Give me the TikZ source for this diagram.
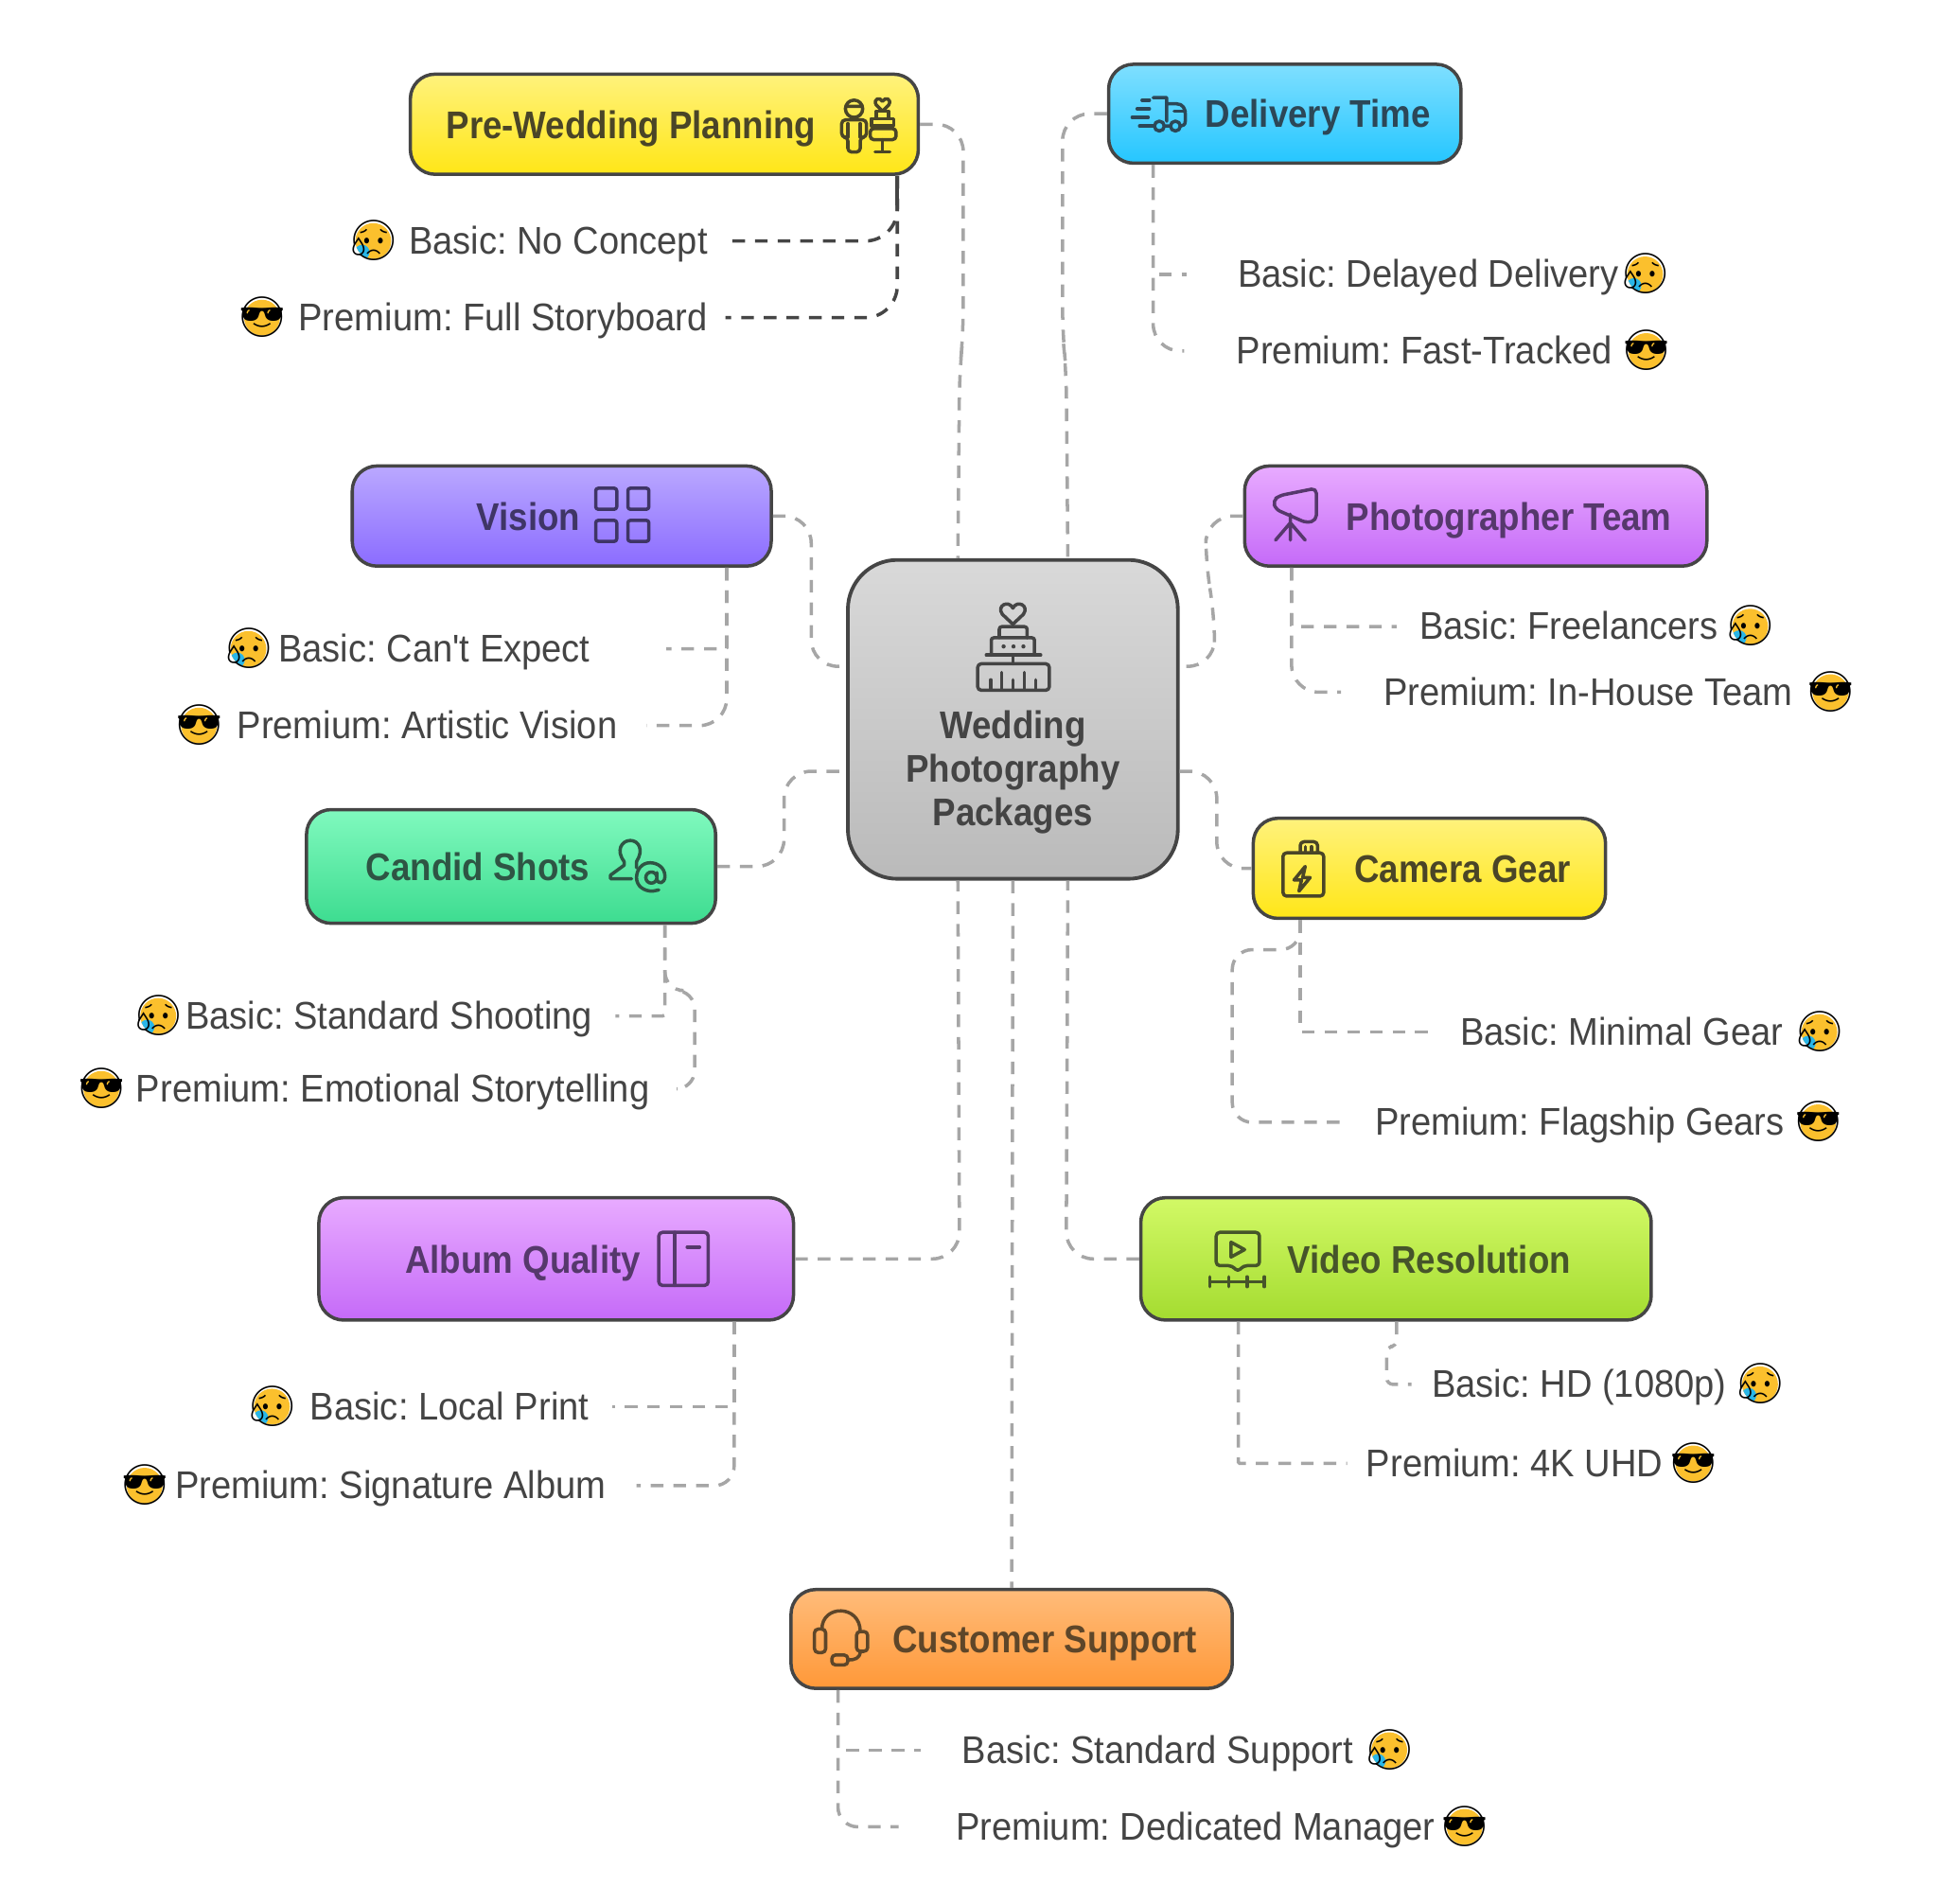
\documentclass[tikz,border=0pt]{standalone}
\usepackage{fontspec}
\setmainfont{Liberation Sans}[Ligatures=TeXOff, FakeStretch=0.935, BoldFeatures={FakeStretch=0.9}]
\newfontfamily\emojifont{Noto Emoji}
\usetikzlibrary{positioning}
\newcommand{\ux}{0.13061mm}
\newcommand{\sadglyph}{\makebox[0pt]{\raisebox{-3.9pt}[0pt][0pt]{\emojifont\char"1F625}}}
\newcommand{\coolglyph}{\makebox[0pt]{\raisebox{-3.9pt}[0pt][0pt]{\emojifont\char"1F60E}}}
\definecolor{edge}{HTML}{454545}
\definecolor{dash}{HTML}{A6A6A6}
\definecolor{body}{HTML}{444444}
\definecolor{face}{HTML}{FBC02D}
\definecolor{drop}{HTML}{29B6E8}
\definecolor{planningink}{HTML}{4A4527}
\definecolor{deliveryink}{HTML}{2C4757}
\definecolor{visionink}{HTML}{3F3566}
\definecolor{teamink}{HTML}{56386C}
\definecolor{candidink}{HTML}{2E5544}
\definecolor{videoink}{HTML}{46552A}
\definecolor{supportink}{HTML}{5E4629}
\definecolor{yellowtop}{HTML}{FFF27C}
\definecolor{yellowend}{HTML}{FFE617}
\definecolor{skytop}{HTML}{7FDFFF}
\definecolor{skyend}{HTML}{25C6FF}
\definecolor{violettop}{HTML}{BAA8FF}
\definecolor{violetend}{HTML}{8B6CFF}
\definecolor{purpletop}{HTML}{E8ABFF}
\definecolor{purpleend}{HTML}{C56AF8}
\definecolor{greentop}{HTML}{80F9BE}
\definecolor{greenend}{HTML}{3DDC90}
\definecolor{limetop}{HTML}{D2F966}
\definecolor{limeend}{HTML}{A4DC30}
\definecolor{orangetop}{HTML}{FFBC7A}
\definecolor{orangeend}{HTML}{FF9838}
\begin{document}
\frenchspacing
\begin{tikzpicture}[
    x=\ux, y=-\ux,
    box/.style n args = {3}{rectangle, draw=edge, line width=1pt, rounded corners=20*\ux, top color=#1, bottom color=#2, text=#3, font=\fontsize{11.6}{14}\selectfont\bfseries, text height=9.7pt, text depth=1.3pt},
    hubbox/.style = {rectangle, draw=edge, line width=1.1pt, rounded corners=40*\ux, top color=black!15, bottom color=black!27, text=body, font=\fontsize{11.6}{13.2}\selectfont\bfseries, align=center, inner sep=0pt},
    item/.style = {text=body, font=\fontsize{11.6}{14}\selectfont, inner sep=0pt, text height=9.4pt, text depth=1.6pt},
    sad/.style = {circle, fill=face, minimum size=29*\ux, inner sep=0pt, font=\fontsize{12}{12}\selectfont, path picture={\fill[drop] ([shift={(-9,9)}]path picture bounding box.center) circle (6);}},
    cool/.style = {circle, fill=face, minimum size=29*\ux, inner sep=0pt, font=\fontsize{12}{12}\selectfont},
    link/.style = {draw=dash, line width=1pt, dash pattern=on 3.8pt off 3pt, rounded corners=22*\ux},
    darklink/.style = {link, draw=edge},
    icon/.style = {line width=1pt, line join=round, line cap=round}
]
\useasboundingbox (0,0) rectangle (1568,1539.7);

% Nodes around the centre
\node (hub) [hubbox, minimum width=267*\ux, minimum height=258*\ux] at (819.5,582) {\rule{0pt}{27pt}\\Wedding\\Photography\\Packages};
\node (planning) [box={yellowtop}{yellowend}{planningink}, minimum width=411*\ux, minimum height=81*\ux] at (537.5,100.5) {\hspace*{-20pt}Pre-Wedding Planning};
\node (delivery) [box={skytop}{skyend}{deliveryink}, minimum width=285*\ux, minimum height=80*\ux] at (1039.5,92) {\hspace*{20pt}Delivery Time};
\node (vision) [box={violettop}{violetend}{visionink}, minimum width=339*\ux, minimum height=81*\ux] at (454.5,417.5) {\hspace*{-20pt}Vision};
\node (team) [box={purpletop}{purpleend}{teamink}, minimum width=374*\ux, minimum height=81*\ux] at (1194,417.5) {\hspace*{20pt}Photographer Team};
\node (candid) [box={greentop}{greenend}{candidink}, minimum width=331*\ux, minimum height=92*\ux] at (413.5,701) {\hspace*{-20pt}Candid Shots};
\node (camera) [box={yellowtop}{yellowend}{planningink}, minimum width=285*\ux, minimum height=81*\ux] at (1156.5,702.5) {\hspace*{20pt}Camera Gear};
\node (album) [box={purpletop}{purpleend}{teamink}, minimum width=384*\ux, minimum height=99*\ux] at (450,1018.5) {\hspace*{-20pt}Album Quality};
\node (video) [box={limetop}{limeend}{videoink}, minimum width=413*\ux, minimum height=99*\ux] at (1129.5,1018.5) {\hspace*{20pt}Video Resolution};
\node (support) [box={orangetop}{orangeend}{supportink}, minimum width=357*\ux, minimum height=80*\ux] at (818.5,1326) {\hspace*{20pt}Customer Support};

% Labels under each box
\node (noconcept) [item, anchor=east] at (573,195) {Basic: No Concept};
\node (storyboard) [item, anchor=east] at (573,257) {Premium: Full Storyboard};
\node (delayed) [item, anchor=west] at (1001,222) {Basic: Delayed Delivery};
\node (fasttracked) [item, anchor=west] at (1000,284) {Premium: Fast-Tracked};
\node (cantexpect) [item, anchor=east] at (478,525) {Basic: Can't Expect};
\node (artistic) [item, anchor=east] at (500,587) {Premium: Artistic Vision};
\node (freelancers) [item, anchor=west] at (1148,507) {Basic: Freelancers};
\node (inhouse) [item, anchor=west] at (1119,560) {Premium: In-House Team};
\node (standardshoot) [item, anchor=east] at (480,822) {Basic: Standard Shooting};
\node (emotional) [item, anchor=east] at (526,881) {Premium: Emotional Storytelling};
\node (minimal) [item, anchor=west] at (1181,835) {Basic: Minimal Gear};
\node (flagship) [item, anchor=west] at (1112,908) {Premium: Flagship Gears};
\node (localprint) [item, anchor=east] at (477,1138) {Basic: Local Print};
\node (signature) [item, anchor=east] at (491,1202) {Premium: Signature Album};
\node (hd) [item, anchor=west] at (1158,1120) {Basic: HD (1080p)};
\node (uhd) [item, anchor=west] at (1105,1184) {Premium: 4K UHD};
\node (standardsupport) [item, anchor=west] at (778,1416) {Basic: Standard Support};
\node (manager) [item, anchor=west] at (773,1478) {Premium: Dedicated Manager};

% Faces
\node (face1) [sad] at (302,195) {\sadglyph};
\node (face2) [cool] at (212,257) {\coolglyph};
\node (face3) [sad] at (1331,222) {\sadglyph};
\node (face4) [cool] at (1332,284) {\coolglyph};
\node (face5) [sad] at (201,525) {\sadglyph};
\node (face6) [cool] at (161,587) {\coolglyph};
\node (face7) [sad] at (1416,507) {\sadglyph};
\node (face8) [cool] at (1481,560) {\coolglyph};
\node (face9) [sad] at (128,822) {\sadglyph};
\node (face10) [cool] at (82,881) {\coolglyph};
\node (face11) [sad] at (1472,835) {\sadglyph};
\node (face12) [cool] at (1471,908) {\coolglyph};
\node (face13) [sad] at (220,1138) {\sadglyph};
\node (face14) [cool] at (117,1202) {\coolglyph};
\node (face15) [sad] at (1424,1120) {\sadglyph};
\node (face16) [cool] at (1370,1184) {\coolglyph};
\node (face17) [sad] at (1124,1416) {\sadglyph};
\node (face18) [cool] at (1185,1478) {\coolglyph};

% Links from the centre
\draw [link] (planning.east) -- ++(35,0) -- ++(0,170) -- ++(-3,30) -- ([xshift=-44.5*\ux]hub.north);
\draw [link] (delivery.west) -- ++(-36,0) -- ++(0,178) -- ++(3,30) -- ([xshift=44.5*\ux]hub.north);
\draw [link] (vision.east) -- ++(31,0) -- ++(0,122) -- ([yshift=43*\ux]hub.west);
\draw [link] (team.west) -- ++(-30,0) -- ++(0,40) -- ++(7,40) -- ++(0,42) -- ([yshift=43*\ux]hub.east);
\draw [link] (candid.east) -- ++(54,0) -- ++(0,-77) -- ([yshift=-42*\ux]hub.west);
\draw [link] ([yshift=-42*\ux]hub.east) -- ++(30,0) -- ++(0,79) -- (camera.west);
\draw [link] (album.east) -- ++(133,0) -- ([xshift=-44.5*\ux]hub.south);
\draw [link] (video.west) -- ++(-59,0) -- ([xshift=44.5*\ux]hub.south);
\draw [link] (hub.south) -- (support.north);

% Links to the labels
\draw [darklink, rounded corners=26*\ux] ([xshift=188.5*\ux]planning.south) |- ([xshift=14*\ux]noconcept.east);
\draw [darklink, rounded corners=26*\ux] ([xshift=188.5*\ux]planning.south) |- ([xshift=14*\ux]storyboard.east);
\draw [draw=edge, line width=1pt] ([xshift=188.5*\ux]planning.south) -- ++(0,24);
\draw [link, rounded corners=4*\ux] ([xshift=-106.5*\ux]delivery.south) |- ([xshift=-41*\ux]delayed.west);
\draw [link] ([xshift=-106.5*\ux]delivery.south) |- ([xshift=-42*\ux]fasttracked.west);
\draw [link, rounded corners=1*\ux] ([xshift=133.5*\ux]vision.south) |- ([xshift=61*\ux]cantexpect.east);
\draw [link] ([xshift=133.5*\ux]vision.south) |- ([xshift=23*\ux]artistic.east);
\draw [link, rounded corners=1*\ux] ([xshift=-149*\ux]team.south) |- ([xshift=-18*\ux]freelancers.west);
\draw [link] ([xshift=-149*\ux]team.south) |- ([xshift=-34*\ux]inhouse.west);
\draw [link, rounded corners=2*\ux] ([xshift=124.5*\ux]candid.south) |- ([xshift=18*\ux]standardshoot.east);
\draw [link, rounded corners=15*\ux] ([xshift=124.5*\ux]candid.south) -- ++(0,53) -- ++(24,0) |- ([xshift=22*\ux]emotional.east);
\draw [link, rounded corners=1*\ux] ([xshift=-104.5*\ux]camera.south) |- ([xshift=-19*\ux]minimal.west);
\draw [link, rounded corners=16*\ux] ([xshift=-104.5*\ux]camera.south) -- ++(0,24) -- ++(-55,0) |- ([xshift=-22*\ux]flagship.west);
\draw [link, rounded corners=1*\ux] ([xshift=144*\ux]album.south) |- ([xshift=18*\ux]localprint.east);
\draw [link, rounded corners=16*\ux] ([xshift=144*\ux]album.south) |- ([xshift=24*\ux]signature.east);
\draw [link, rounded corners=5*\ux] ([xshift=0.5*\ux]video.south) -- ++(0,20) -- ++(-8,0) |- ([xshift=-16*\ux]hd.west);
\draw [link, rounded corners=1*\ux] ([xshift=-127.5*\ux]video.south) |- ([xshift=-15*\ux]uhd.west);
\draw [link, rounded corners=1*\ux] ([xshift=-140.5*\ux]support.south) |- ([xshift=-33*\ux]standardsupport.west);
\draw [link, rounded corners=16*\ux] ([xshift=-140.5*\ux]support.south) |- ([xshift=-46*\ux]manager.west);

% Icons
\begin{scope}[icon, draw=planningink]
\draw (691,88) circle (7) (684.5,86) -- (697.5,86);
\draw [rounded corners=3*\ux] (686,111) -- (681,111) -- (681,97) -- (701,97) -- (701,111) -- (696,111) -- (696,123) -- (686,123) -- cycle;
\draw (686,100) -- (686,111) (696,100) -- (696,111);
\draw (714,90) -- (709,85) .. controls (706,80) and (712,78) .. (714,82) .. controls (716,78) and (722,80) .. (719,85) -- cycle;
\draw (709,90) rectangle (719,96) (705,96) rectangle (723,102);
\draw [rounded corners=3*\ux] (704,104) rectangle (725,113);
\draw (714,113) -- (714,122) (708,123) -- (720,123);
% camera battery
\draw [rounded corners=3*\ux] (1038,690) rectangle (1071,725) (1052,690) -- (1052,681) -- (1066,681) -- (1066,690);
\draw (1056,685) -- (1056,690) (1061,685) -- (1061,690);
\draw (1056,701) -- (1047,712) -- (1053,712) -- (1051,721) -- (1060,710) -- (1054,710) -- cycle;
\end{scope}
\begin{scope}[icon, draw=deliveryink]
\draw (924,81) -- (930,81) (920,88) -- (930,88) (916,95) -- (929,95) (922,102) -- (933,102);
\draw (933,79) -- (944,79) -- (944,98) (944,84) -- (952,84) .. controls (957,84) and (959,88) .. (959,92) -- (959,98) .. controls (959,101) and (957,102) .. (955,102);
\draw (938,102) circle (4) (951,102) circle (4) (942,102) -- (947,102);
\draw (950,90) -- (959,90);
\end{scope}
\begin{scope}[icon, draw=visionink, rounded corners=2*\ux]
\draw (482,395) rectangle (499,412) (508,395) rectangle (525,412);
\draw (482,421) rectangle (499,438) (508,421) rectangle (525,438);
\end{scope}
\begin{scope}[icon, draw=teamink]
\draw [rounded corners=4*\ux] (1035,401) -- (1065,395) -- (1065,421) -- (1057,423) -- (1032,412) -- (1030,405) -- cycle;
\draw (1044,416) -- (1044,437) (1044,423) -- (1032,437) (1044,423) -- (1056,437);
% book
\draw [rounded corners=3*\ux] (533,997) rectangle (573,1040);
\draw (546,997) -- (546,1040) (556,1009) -- (566,1009);
\end{scope}
\begin{scope}[icon, draw=candidink]
\draw (505,697) .. controls (498,688) and (503,680) .. (510,680) .. controls (517,680) and (521,688) .. (515,697);
\draw (505,697) -- (505,700) -- (494,708) -- (494,711) -- (511,711) (515,697) -- (515,702);
\draw (527,710) circle (4.5) (531.5,706) -- (531.5,711) .. controls (532,716) and (538,715) .. (538,709) .. controls (538,702) and (532,698) .. (526,698) .. controls (519,698) and (515,704) .. (515,710) .. controls (515,717) and (521,721) .. (528,721) -- (533,720);
\end{scope}
\begin{scope}[icon, draw=videoink]
\draw [rounded corners=3*\ux] (984,997) -- (1019,997) -- (1019,1024) -- (1006,1024) -- (1001.5,1029) -- (997,1024) -- (984,1024) -- cycle;
\draw (996,1005) -- (1007,1011) -- (996,1017) -- cycle;
\draw (979,1037) -- (1023,1037) (979,1033) -- (979,1041) (994,1033) -- (994,1041) (1009,1033) -- (1009,1041) (1023,1033) -- (1023,1041);
\end{scope}
\begin{scope}[icon, draw=supportink]
\draw [rounded corners=3*\ux] (659,1318) rectangle (668,1337) (693,1320) rectangle (702,1336);
\draw (665,1318) .. controls (665,1298) and (696,1298) .. (696,1320);
\draw (696,1336) .. controls (696,1342) and (691,1343) .. (686,1343);
\draw [rounded corners=3*\ux] (673,1339) rectangle (686,1347);
\end{scope}
\begin{scope}[icon, draw=body]
\draw (819.5,505) -- (811,497) .. controls (806,490) and (816,485) .. (819.5,492) .. controls (823,485) and (833,490) .. (828,497) -- cycle;
\draw [rounded corners=2*\ux] (808.5,516) -- (808.5,507) -- (831,507) -- (831,516);
\draw [rounded corners=2*\ux] (802,530) -- (802,516) -- (837,516) -- (837,530);
\draw (798,530) -- (842,530) (819.5,530) -- (819.5,537);
\draw [rounded corners=3*\ux] (791,558.5) -- (791,537) -- (849,537) -- (849,558.5) -- cycle;
\draw (801.6,550) -- (801.6,558) (810.5,544) -- (810.5,558) (819.5,550) -- (819.5,558) (828.7,544) -- (828.7,558) (838,550) -- (838,558);
\fill [body] (812,523) circle (1.7) (820,523) circle (1.7) (828,523) circle (1.7);
\end{scope}

\end{tikzpicture}
\end{document}
